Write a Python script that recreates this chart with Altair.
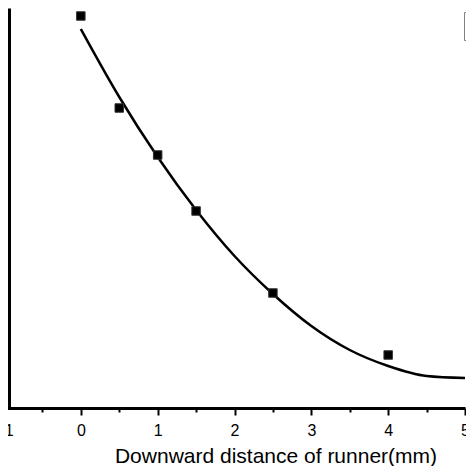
import altair as alt
import pandas as pd

# measured points
pt_x = [0, 0.5, 1, 1.5, 2.5, 4]
pt_y = [39.2, 30.0, 25.3, 19.7, 11.5, 5.3]

# fitted curve
fit_x = [0, 0.5, 1, 1.5, 2, 2.5, 3, 3.5, 4, 4.5, 5]
fit_y = [37.9, 31.1, 25.1, 19.8, 15.2, 11.4, 8.2, 5.8, 4.2, 3.2, 3.0]

major_ticks = [-1, 0, 1, 2, 3, 4, 5]
minor_ticks = [-0.5, 0.5, 1.5, 2.5, 3.5, 4.5]
x_title = "Downward distance of runner(mm)"
series_name = "Data"

pts = pd.DataFrame({"x": pt_x, "y": pt_y, "s": [series_name] * len(pt_x)})
fit = pd.DataFrame({"x": fit_x, "y": fit_y})

FONT = "Liberation Sans"
xscale = alt.Scale(domain=[-1, 5], nice=False, zero=False)
yscale = alt.Scale(domain=[0, 40], nice=False, zero=True)

yaxis = alt.Axis(orient="left", domainWidth=3, domainColor="black", offset=-5,
                 ticks=False, labels=False, grid=False, title=None)

points = alt.Chart(pts).mark_point(shape="square", filled=True, size=72,
                                   stroke="#333333", strokeWidth=1, opacity=1).encode(
    x=alt.X("x:Q", scale=xscale,
            axis=alt.Axis(orient="bottom", values=major_ticks, tickSize=7, tickWidth=2,
                          tickColor="black", domainWidth=3, domainColor="black",
                          labelFont=FONT, labelFontSize=16, labelColor="black",
                          labelBaseline="alphabetic", labelPadding=20, labelFlush=False,
                          labelOverlap=False, grid=False,
                          title=x_title, titleFont=FONT, titleFontSize=21,
                          titleFontWeight="normal", titleColor="black",
                          titleX=271.5, titleY=54, titleBaseline="alphabetic",
                          titleAlign="center", titleAnchor="start")),
    y=alt.Y("y:Q", scale=yscale, axis=yaxis),
    color=alt.Color("s:N", scale=alt.Scale(range=["black"]),
                    legend=alt.Legend(orient="none", legendX=460, legendY=4, title=None,
                                      strokeColor="#808080", fillColor="white", padding=6,
                                      symbolType="square", labelFont=FONT, labelFontSize=16)),
)

curve = alt.Chart(fit).mark_line(color="black", strokeWidth=2.5, interpolate="monotone").encode(
    x=alt.X("x:Q", scale=xscale,
            axis=alt.Axis(orient="bottom", values=minor_ticks, tickSize=4, tickWidth=2,
                          tickColor="black", domain=False, labels=False, grid=False,
                          title=None)),
    y=alt.Y("y:Q", scale=yscale, axis=yaxis),
)

chart = alt.layer(curve, points).resolve_axis(x="independent").properties(
    width=461, height=400,
    autosize=alt.AutoSizeParams(type="none"),
    padding={"left": -4, "top": 0, "right": 1, "bottom": 58},
    background="white",
).configure_view(stroke=None)

chart.save("out.html", embed_options={"renderer": "svg", "actions": False})
